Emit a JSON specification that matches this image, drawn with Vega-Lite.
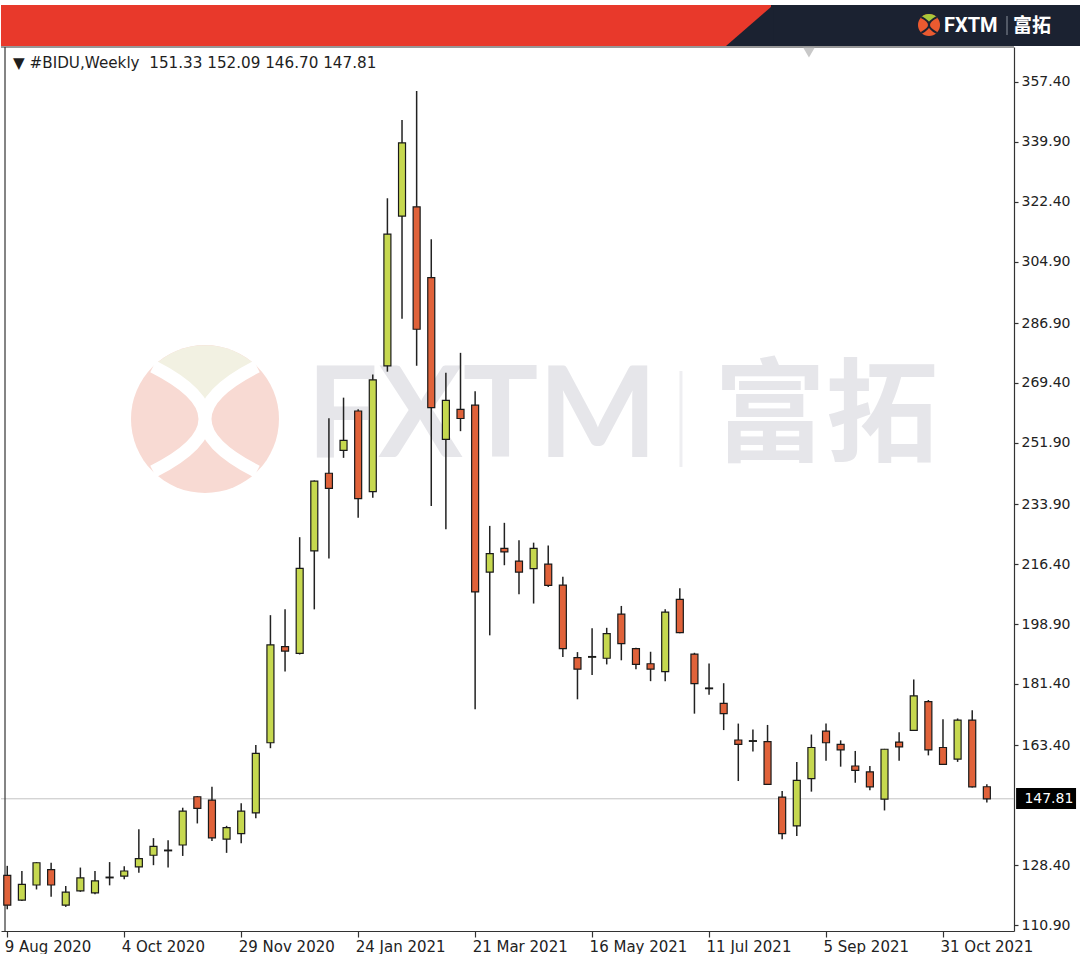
{
  "$schema": "https://vega.github.io/schema/vega-lite/v6.json",
  "background": "white",
  "padding": 0,
  "spacing": 0,
  "config": {"view": {"stroke": null}, "font": "DejaVu Sans"},
  "datasets": {
    "bidu": [
      {"d":"2020-08-09","o":125.4,"h":128.2,"l":115.5,"c":116.7},
      {"d":"2020-08-16","o":118.2,"h":126.7,"l":117.9,"c":122.8},
      {"d":"2020-08-23","o":122.6,"h":129.3,"l":121.3,"c":129.1},
      {"d":"2020-08-30","o":127.1,"h":129.1,"l":119.2,"c":122.6},
      {"d":"2020-09-06","o":116.7,"h":122.3,"l":116.2,"c":120.5},
      {"d":"2020-09-13","o":120.9,"h":127.7,"l":120.6,"c":124.7},
      {"d":"2020-09-20","o":120.3,"h":126.7,"l":119.9,"c":123.8},
      {"d":"2020-09-27","o":124.7,"h":129.3,"l":122.5,"c":124.9},
      {"d":"2020-10-04","o":125.2,"h":128.1,"l":124.3,"c":126.7},
      {"d":"2020-10-11","o":127.9,"h":138.9,"l":126.2,"c":130.3},
      {"d":"2020-10-18","o":131.3,"h":136.3,"l":128.4,"c":133.9},
      {"d":"2020-10-25","o":132.6,"h":135.7,"l":127.7,"c":132.8},
      {"d":"2020-11-01","o":134.3,"h":145.2,"l":131.1,"c":144.2},
      {"d":"2020-11-08","o":148.4,"h":148.6,"l":140.6,"c":145.0},
      {"d":"2020-11-15","o":147.4,"h":151.3,"l":135.5,"c":136.4},
      {"d":"2020-11-22","o":136.0,"h":139.9,"l":132.0,"c":139.4},
      {"d":"2020-11-29","o":137.6,"h":146.5,"l":134.8,"c":144.2},
      {"d":"2020-12-06","o":143.7,"h":163.5,"l":142.1,"c":161.1},
      {"d":"2020-12-13","o":164.2,"h":201.5,"l":162.6,"c":192.8},
      {"d":"2020-12-20","o":192.3,"h":203.2,"l":185.0,"c":191.0},
      {"d":"2020-12-27","o":190.3,"h":224.3,"l":190.0,"c":215.2},
      {"d":"2021-01-03","o":220.3,"h":240.9,"l":203.2,"c":240.7},
      {"d":"2021-01-10","o":243.0,"h":259.1,"l":218.1,"c":238.6},
      {"d":"2021-01-17","o":249.7,"h":265.1,"l":247.5,"c":252.6},
      {"d":"2021-01-24","o":261.2,"h":261.7,"l":230.0,"c":235.6},
      {"d":"2021-01-31","o":237.6,"h":271.9,"l":235.8,"c":270.3},
      {"d":"2021-02-07","o":274.4,"h":323.4,"l":272.7,"c":312.9},
      {"d":"2021-02-14","o":318.2,"h":346.3,"l":288.2,"c":339.6},
      {"d":"2021-02-21","o":320.9,"h":354.8,"l":274.4,"c":285.1},
      {"d":"2021-02-28","o":300.2,"h":311.4,"l":233.4,"c":262.2},
      {"d":"2021-03-07","o":252.9,"h":272.4,"l":226.6,"c":264.3},
      {"d":"2021-03-14","o":261.7,"h":278.2,"l":255.3,"c":259.0},
      {"d":"2021-03-21","o":262.9,"h":267.0,"l":174.0,"c":208.3},
      {"d":"2021-03-28","o":214.1,"h":227.6,"l":195.6,"c":219.5},
      {"d":"2021-04-04","o":221.0,"h":228.5,"l":216.1,"c":220.0},
      {"d":"2021-04-11","o":217.3,"h":223.4,"l":207.6,"c":214.1},
      {"d":"2021-04-18","o":215.1,"h":222.7,"l":204.9,"c":221.0},
      {"d":"2021-04-25","o":216.4,"h":221.9,"l":209.7,"c":210.2},
      {"d":"2021-05-02","o":210.3,"h":212.7,"l":189.3,"c":191.7},
      {"d":"2021-05-09","o":189.1,"h":190.7,"l":176.9,"c":185.7},
      {"d":"2021-05-16","o":189.2,"h":197.7,"l":184.0,"c":189.4},
      {"d":"2021-05-23","o":188.9,"h":197.8,"l":187.1,"c":196.1},
      {"d":"2021-05-30","o":201.8,"h":204.2,"l":188.3,"c":193.2},
      {"d":"2021-06-06","o":191.7,"h":192.0,"l":185.7,"c":187.1},
      {"d":"2021-06-13","o":187.3,"h":190.8,"l":182.2,"c":185.7},
      {"d":"2021-06-20","o":185.0,"h":203.2,"l":182.2,"c":202.4},
      {"d":"2021-06-27","o":206.1,"h":209.4,"l":196.2,"c":196.4},
      {"d":"2021-07-04","o":190.1,"h":190.5,"l":172.7,"c":181.5},
      {"d":"2021-07-11","o":180.0,"h":187.4,"l":178.2,"c":180.2},
      {"d":"2021-07-18","o":175.7,"h":181.6,"l":167.9,"c":172.7},
      {"d":"2021-07-25","o":165.0,"h":169.8,"l":153.0,"c":163.7},
      {"d":"2021-08-01","o":164.6,"h":168.1,"l":161.6,"c":164.8},
      {"d":"2021-08-08","o":164.5,"h":169.4,"l":151.9,"c":152.0},
      {"d":"2021-08-15","o":148.3,"h":150.1,"l":136.0,"c":137.6},
      {"d":"2021-08-22","o":139.9,"h":158.6,"l":136.9,"c":153.2},
      {"d":"2021-08-29","o":153.7,"h":166.6,"l":149.9,"c":162.8},
      {"d":"2021-09-05","o":167.6,"h":169.8,"l":158.9,"c":164.2},
      {"d":"2021-09-12","o":163.7,"h":164.9,"l":157.2,"c":162.1},
      {"d":"2021-09-19","o":157.4,"h":161.8,"l":152.5,"c":156.1},
      {"d":"2021-09-26","o":155.7,"h":157.4,"l":150.3,"c":151.3},
      {"d":"2021-10-03","o":147.7,"h":162.4,"l":144.4,"c":162.3},
      {"d":"2021-10-10","o":164.4,"h":167.3,"l":158.9,"c":163.0},
      {"d":"2021-10-17","o":167.8,"h":182.7,"l":167.7,"c":177.9},
      {"d":"2021-10-24","o":176.2,"h":176.7,"l":160.5,"c":162.1},
      {"d":"2021-10-31","o":162.8,"h":171.1,"l":157.8,"c":157.9},
      {"d":"2021-11-07","o":159.4,"h":171.3,"l":158.6,"c":170.8},
      {"d":"2021-11-14","o":170.8,"h":173.7,"l":151.1,"c":151.3},
      {"d":"2021-11-21","o":151.33,"h":152.09,"l":146.70,"c":147.81}
    ]
  },
  "vconcat": [
    {
      "width": 1080,
      "height": 46,
      "data": {"values": [{}]},
      "layer": [
        {
          "mark": {"type": "rect", "color": "#e8392b"},
          "encoding": {
            "x": {"datum": 0, "type": "quantitative", "scale": {"domain": [0, 1080], "nice": false, "zero": false}, "axis": null},
            "x2": {"datum": 1080},
            "y": {"datum": 5, "type": "quantitative", "scale": {"domain": [0, 46], "reverse": true, "nice": false, "zero": false}, "axis": null},
            "y2": {"datum": 46}
          }
        },
        {
          "mark": {"type": "rect", "color": "#1b2231"},
          "encoding": {
            "x": {"datum": 770, "type": "quantitative", "axis": null},
            "x2": {"datum": 1080},
            "y": {"datum": 5, "type": "quantitative", "axis": null},
            "y2": {"datum": 46}
          }
        },
        {
          "mark": {"type": "point", "shape": "M 1.1 -0.911 L 1.1 0.911 L -1 0.911 Z", "filled": true, "size": 2025, "color": "#1b2231", "opacity": 1, "strokeWidth": 0},
          "encoding": {
            "x": {"datum": 747.5, "type": "quantitative", "axis": null},
            "y": {"datum": 25.5, "type": "quantitative", "axis": null}
          }
        },
        {
          "mark": {"type": "point", "shape": "circle", "filled": true, "size": 484, "color": "#ea5a30", "opacity": 1, "strokeWidth": 0},
          "encoding": {
            "x": {"datum": 928, "type": "quantitative", "axis": null},
            "y": {"datum": 25, "type": "quantitative", "axis": null}
          }
        },
        {
          "mark": {"type": "point", "shape": "M -0.7 -0.71 Q 0 -0.355 0 0 Q 0 -0.355 0.7 -0.71 A 1 1 0 0 0 -0.7 -0.71 Z", "filled": true, "size": 484, "color": "#a8c83a", "opacity": 1, "strokeWidth": 0},
          "encoding": {
            "x": {"datum": 928, "type": "quantitative", "axis": null},
            "y": {"datum": 25, "type": "quantitative", "axis": null}
          }
        },
        {
          "mark": {"type": "point", "shape": "M -0.7 -0.71 Q 0.7 0 -0.7 0.71 M 0.7 -0.71 Q -0.7 0 0.7 0.71", "filled": false, "size": 484, "color": "#1b2231", "opacity": 1, "strokeWidth": 2},
          "encoding": {
            "x": {"datum": 928, "type": "quantitative", "axis": null},
            "y": {"datum": 25, "type": "quantitative", "axis": null}
          }
        },
        {
          "mark": {"type": "text", "text": "FXTM", "font": "Roboto", "fontWeight": "bold", "fontSize": 20, "color": "white", "align": "left", "baseline": "middle"},
          "encoding": {
            "x": {"datum": 943, "type": "quantitative", "axis": null},
            "y": {"datum": 25.5, "type": "quantitative", "axis": null}
          }
        },
        {
          "mark": {"type": "rule", "color": "#8a909c", "strokeWidth": 1},
          "encoding": {
            "x": {"datum": 1006, "type": "quantitative", "axis": null},
            "y": {"datum": 16, "type": "quantitative", "axis": null},
            "y2": {"datum": 35}
          }
        },
        {
          "mark": {"type": "text", "text": "富拓", "font": "Noto Sans CJK SC", "fontWeight": "bold", "fontSize": 19, "color": "white", "align": "left", "baseline": "middle"},
          "encoding": {
            "x": {"datum": 1012, "type": "quantitative", "axis": null},
            "y": {"datum": 25.5, "type": "quantitative", "axis": null}
          }
        }
      ]
    },
    {
      "width": 1013,
      "height": 884,
      "data": {"values": [{}]},
      "layer": [
        {
          "mark": {"type": "point", "shape": "circle", "filled": true, "size": 21904, "color": "#f8dad3", "opacity": 1, "strokeWidth": 0},
          "encoding": {
            "x": {"datum": {"year": 2020, "month": 11, "date": 11, "hours": 16, "utc": true}, "type": "temporal", "title": null},
            "y": {"datum": 258.85, "type": "quantitative", "title": null}
          }
        },
        {
          "mark": {"type": "point", "shape": "M -0.7 -0.71 Q 0 -0.355 0 0 Q 0 -0.355 0.7 -0.71 A 1 1 0 0 0 -0.7 -0.71 Z", "filled": true, "size": 21904, "color": "#f2f1e2", "opacity": 1, "strokeWidth": 0},
          "encoding": {
            "x": {"datum": {"year": 2020, "month": 11, "date": 11, "hours": 16, "utc": true}, "type": "temporal", "title": null},
            "y": {"datum": 258.85, "type": "quantitative", "title": null}
          }
        },
        {
          "mark": {"type": "point", "shape": "M -0.7 -0.71 Q 0.7 0 -0.7 0.71 M 0.7 -0.71 Q -0.7 0 0.7 0.71", "filled": false, "size": 21904, "color": "white", "opacity": 1, "strokeWidth": 13},
          "encoding": {
            "x": {"datum": {"year": 2020, "month": 11, "date": 11, "hours": 16, "utc": true}, "type": "temporal", "title": null},
            "y": {"datum": 258.85, "type": "quantitative", "title": null}
          }
        },
        {
          "mark": {"type": "text", "text": "FXTM", "font": "Lato", "fontWeight": "bold", "fontSize": 126, "color": "#e6e6ea", "align": "center", "baseline": "middle"},
          "encoding": {
            "x": {"datum": {"year": 2021, "month": 3, "date": 24, "hours": 8, "utc": true}, "type": "temporal", "title": null},
            "y": {"datum": 258.85, "type": "quantitative", "title": null}
          }
        },
        {
          "mark": {"type": "rule", "color": "#eeeef1", "strokeWidth": 3},
          "encoding": {
            "x": {"datum": {"year": 2021, "month": 6, "date": 27, "hours": 13, "utc": true}, "type": "temporal", "title": null},
            "y": {"datum": 272.89, "type": "quantitative", "title": null},
            "y2": {"datum": 244.82}
          }
        },
        {
          "mark": {"type": "text", "text": "富拓", "font": "Noto Sans CJK SC", "fontWeight": "bold", "fontSize": 112, "color": "#e6e6ea", "align": "center", "baseline": "middle"},
          "encoding": {
            "x": {"datum": {"year": 2021, "month": 9, "date": 5, "utc": true}, "type": "temporal", "title": null},
            "y": {"datum": 258.85, "type": "quantitative", "title": null}
          }
        },
        {
          "mark": {"type": "rule", "color": "#c4c4c4", "strokeWidth": 1},
          "encoding": {
            "y": {"datum": 147.81, "type": "quantitative", "title": null}
          }
        },
        {
          "mark": {"type": "rule", "color": "#333333", "strokeWidth": 1.2},
          "encoding": {
            "y": {"datum": 367.63, "type": "quantitative", "title": null}
          }
        },
        {
          "mark": {"type": "rule", "color": "#333333", "strokeWidth": 1.2},
          "encoding": {
            "x": {"datum": {"year": 2020, "month": 8, "date": 7, "hours": 22, "utc": true}, "type": "temporal", "title": null}
          }
        },
        {
          "mark": {"type": "point", "shape": "triangle-down", "filled": true, "size": 130, "color": "#c8c8c8", "opacity": 1, "strokeWidth": 0},
          "encoding": {
            "x": {"datum": {"year": 2021, "month": 8, "date": 27, "hours": 20, "utc": true}, "type": "temporal", "title": null},
            "y": {"datum": 366.0, "type": "quantitative", "title": null}
          }
        },
        {
          "data": {"name": "bidu"},
          "mark": {"type": "rule", "color": "#222222", "strokeWidth": 1.5},
          "encoding": {
            "x": {
              "field": "d", "type": "temporal", "title": null,
              "scale": {"type": "utc", "nice": false, "padding": 0, "domain": [{"year": 2020, "month": 8, "date": 6, "utc": true}, {"year": 2021, "month": 12, "date": 4, "utc": true}]},
              "axis": {
                "values": [
                  {"year": 2020, "month": 8, "date": 9, "utc": true},
                  {"year": 2020, "month": 10, "date": 4, "utc": true},
                  {"year": 2020, "month": 11, "date": 29, "utc": true},
                  {"year": 2021, "month": 1, "date": 24, "utc": true},
                  {"year": 2021, "month": 3, "date": 21, "utc": true},
                  {"year": 2021, "month": 5, "date": 16, "utc": true},
                  {"year": 2021, "month": 7, "date": 11, "utc": true},
                  {"year": 2021, "month": 9, "date": 5, "utc": true},
                  {"year": 2021, "month": 10, "date": 31, "utc": true}
                ],
                "labelExpr": "utcFormat(datum.value, '%-d %b %Y')",
                "orient": "bottom",
                "grid": false, "domainColor": "#333333", "domainWidth": 1.2,
                "tickColor": "#333333", "tickSize": 6, "tickWidth": 1.2,
                "labelFont": "DejaVu Sans", "labelFontSize": 15, "labelColor": "#222222",
                "labelAlign": "left", "labelBaseline": "top", "labelPadding": 2, "labelOffset": -3,
                "labelFlush": false, "labelOverlap": false, "labelBound": false
              }
            },
            "y": {
              "field": "l", "type": "quantitative", "title": null,
              "scale": {"domain": [109.15, 367.63], "nice": false, "zero": false, "padding": 0},
              "axis": {
                "orient": "right",
                "values": [110.9, 128.4, 163.4, 181.4, 198.9, 216.4, 233.9, 251.9, 269.4, 286.9, 304.9, 322.4, 339.9, 357.4],
                "format": ".2f",
                "grid": false, "domainColor": "#333333", "domainWidth": 1.2,
                "tickColor": "#333333", "tickSize": 4, "tickWidth": 1.2,
                "labelFont": "DejaVu Sans", "labelFontSize": 14, "labelColor": "#222222",
                "labelAlign": "left", "labelPadding": 3, "labelOverlap": false, "labelFlush": false, "labelBound": false
              }
            },
            "y2": {"field": "h"}
          }
        },
        {
          "data": {"name": "bidu"},
          "mark": {"type": "bar", "width": 7, "stroke": "#1a1a1a", "strokeWidth": 1.2},
          "encoding": {
            "x": {"field": "d", "type": "temporal", "title": null},
            "y": {"field": "o", "type": "quantitative", "title": null},
            "y2": {"field": "c"},
            "fill": {"condition": {"test": "datum.c >= datum.o", "value": "#c6d84f"}, "value": "#e0623a"}
          }
        },
        {
          "mark": {"type": "text", "text": "▼ #BIDU,Weekly\u00a0 151.33 152.09 146.70 147.81", "font": "DejaVu Sans", "fontSize": 15.2, "color": "#1e1e1e", "align": "left", "baseline": "middle"},
          "encoding": {
            "x": {"datum": {"year": 2020, "month": 8, "date": 11, "hours": 18, "utc": true}, "type": "temporal", "title": null},
            "y": {"datum": 362.95, "type": "quantitative", "title": null}
          }
        },
        {
          "mark": {"type": "rect", "color": "#000000"},
          "encoding": {
            "x": {"datum": {"year": 2021, "month": 12, "date": 5, "utc": true}, "type": "temporal", "title": null},
            "x2": {"datum": {"year": 2022, "month": 1, "date": 2, "hours": 17, "utc": true}},
            "y": {"datum": 150.96, "type": "quantitative", "title": null},
            "y2": {"datum": 144.82}
          }
        },
        {
          "mark": {"type": "text", "text": "147.81", "font": "DejaVu Sans", "fontSize": 14, "color": "white", "align": "center", "baseline": "middle"},
          "encoding": {
            "x": {"datum": {"year": 2021, "month": 12, "date": 20, "hours": 17, "utc": true}, "type": "temporal", "title": null},
            "y": {"datum": 147.81, "type": "quantitative", "title": null}
          }
        }
      ]
    }
  ]
}
